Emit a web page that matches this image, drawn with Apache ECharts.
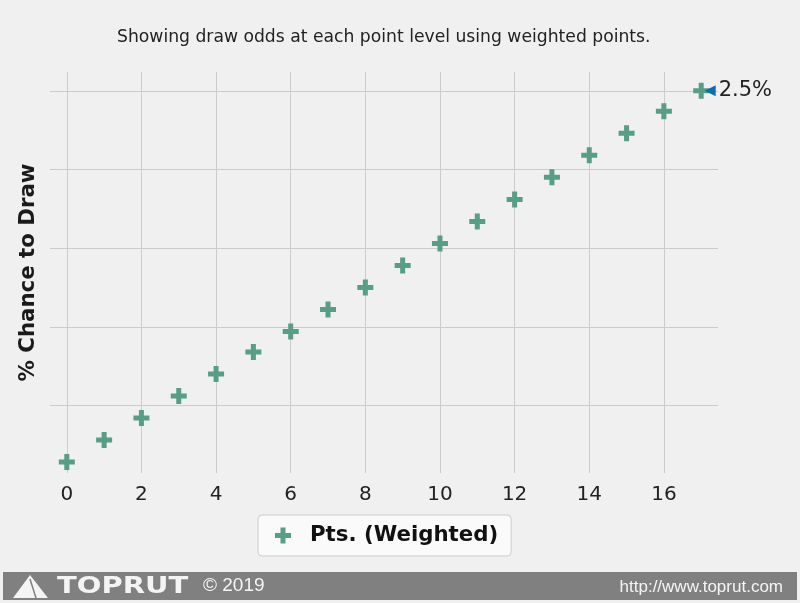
<!DOCTYPE html>
<html>
<head>
<meta charset="utf-8">
<script src="https://cdn.jsdelivr.net/npm/echarts@6/dist/echarts.min.js"></script>
<style>
  html, body { margin: 0; padding: 0; background: #f0f0f0; }
  #chart { width: 800px; height: 603px; }
</style>
</head>
<body>
<div id="chart"></div>
<script>
// points level (weighted) and chance to draw (%)
const pts = [0, 1, 2, 3, 4, 5, 6, 7, 8, 9, 10, 11, 12, 13, 14, 15, 16, 17];
const chance = [0.14, 0.28, 0.42, 0.56, 0.70, 0.84, 0.97, 1.11, 1.25, 1.39, 1.53, 1.67, 1.81, 1.95, 2.09, 2.23, 2.37, 2.5];
const xTicks = [0, 2, 4, 6, 8, 10, 12, 14, 16];
const yTicks = [0.5, 1, 1.5, 2, 2.5];
const topLabel = '2.5%';

const plus = 'path://M5.5,0H10.5V5.5H16V10.5H10.5V16H5.5V10.5H0V5.5H5.5Z';
const font = 'DejaVu Sans';

const chart = echarts.init(document.getElementById('chart'));
chart.setOption({
  backgroundColor: '#f0f0f0',
  animation: false,
  title: {
    text: 'Showing draw odds at each point level using weighted points.',
    left: 112,
    top: 24,
    textStyle: { fontFamily: font, fontSize: 17.2, fontWeight: 'normal', color: '#222' }
  },
  grid: { left: 50, right: 82, top: 72, bottom: 130 },
  xAxis: {
    type: 'value',
    min: -0.45,
    max: 17.45,
    axisLine: { show: false },
    axisTick: { show: false, customValues: xTicks },
    axisLabel: {
      customValues: xTicks,
      fontFamily: font, fontSize: 20, color: '#222', margin: 12
    },
    splitLine: { show: true, lineStyle: { color: '#cbcbcb', width: 1 } }
  },
  yAxis: {
    type: 'value',
    min: 0.07,
    max: 2.62,
    name: '% Chance to Draw',
    nameLocation: 'middle',
    nameRotate: 90,
    nameGap: 11,
    nameTextStyle: { fontFamily: font, fontSize: 21.3, fontWeight: 'bold', color: '#1a1a1a' },
    axisLine: { show: false },
    axisTick: { show: false, customValues: yTicks },
    axisLabel: { show: false, customValues: yTicks },
    splitLine: { show: true, lineStyle: { color: '#cbcbcb', width: 1 } }
  },
  legend: {
    left: 258,
    top: 515,
    padding: [10, 13, 10, 17],
    itemWidth: 16,
    itemHeight: 16,
    backgroundColor: '#fafafa',
    borderColor: '#cccccc',
    borderWidth: 1,
    borderRadius: 4,
    textStyle: { fontFamily: font, fontSize: 21.3, fontWeight: 'bold', color: '#111', padding: [0, 0, 0, 14] },
    data: [{ name: 'Pts. (Weighted)', icon: plus }]
  },
  series: [{
    name: 'Pts. (Weighted)',
    type: 'scatter',
    symbol: plus,
    symbolSize: 16,
    itemStyle: { color: '#569e85', opacity: 1 },
    data: pts.map((p, i) => [p, chance[i]]),
    markPoint: {
      symbol: 'triangle',
      symbolSize: [11, 11],
      symbolRotate: 90,
      symbolOffset: [9, 0],
      itemStyle: { color: '#0a6fb0' },
      label: {
        show: true,
        position: 'right',
        distance: 3,
        formatter: topLabel,
        fontFamily: font, fontSize: 21, color: '#222'
      },
      data: [{ coord: [pts[pts.length - 1], chance[chance.length - 1]] }]
    }
  }],
  graphic: [
    { type: 'rect', shape: { x: 3, y: 572, width: 794, height: 28 }, style: { fill: '#808080' } },
    { type: 'polygon', shape: { points: [[13, 598], [30, 575], [48, 598]] }, style: { fill: '#f4f4f4' } },
    { type: 'polyline', shape: { points: [[30, 579], [36, 598]] }, style: { stroke: '#808080', lineWidth: 1.5, fill: null } },
    { type: 'text', x: 57, y: 587, scaleX: 1.26, style: { text: 'TOPRUT', fontFamily: font, fontSize: 23, fontWeight: 'bold', fill: '#f4f4f4', verticalAlign: 'middle' } },
    { type: 'text', x: 203, y: 586, style: { text: '© 2019', fontFamily: 'Liberation Sans', fontSize: 19, fill: '#f4f4f4', verticalAlign: 'middle' } },
    { type: 'text', x: 783, y: 587, style: { text: 'http://www.toprut.com', fontFamily: 'Liberation Sans', fontSize: 17, fill: '#f4f4f4', align: 'right', verticalAlign: 'middle' } }
  ]
});
</script>
</body>
</html>
